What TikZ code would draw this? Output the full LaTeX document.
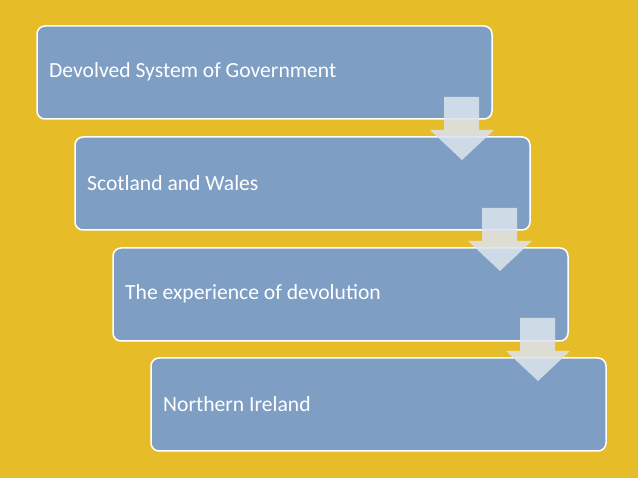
\documentclass[tikz,border=0pt]{standalone}
\usepackage{fontspec}
\setmainfont{Carlito}
\definecolor{bg}{HTML}{E6BC28}
\definecolor{boxfill}{HTML}{7F9EC4}
\definecolor{arrowfill}{RGB}{220,227,237}
\tikzset{
  stepbox/.style={draw=white, line width=1.5pt, fill=boxfill, rounded corners=8pt},
  steptext/.style={anchor=west, text=white, font=\fontsize{21.6}{24}\selectfont, inner sep=0pt},
  downarrow/.style={fill=arrowfill, fill opacity=0.87, draw=none}
}
\begin{document}
\begin{tikzpicture}[x=1pt,y=-1pt]
\fill[bg] (0,0) rectangle (638,478);
\useasboundingbox (0,0) rectangle (638,478);
% boxes
\draw[stepbox] (37,26) rectangle (492,119);
\draw[stepbox] (75,137) rectangle (530,230);
\draw[stepbox] (113,248) rectangle (568,341);
\draw[stepbox] (151,358) rectangle (606,451);
\node[steptext] (t1) at (49,72) {Devolved System of Government};
\node[steptext] (t2) at (87,183) {Scotland and Wales};
\node[steptext] (t3) at (125,294) {The experience of devolution};
\node[steptext] (t4) at (163,404) {Northern Ireland};
% arrows
\foreach \dx/\dy in {0/0, 38/111, 76/221} {
  \fill[downarrow] (444+\dx,97+\dy) -- (479+\dx,97+\dy) -- (479+\dx,130+\dy) -- (494+\dx,130+\dy)
    -- (462+\dx,160+\dy) -- (430+\dx,130+\dy) -- (444+\dx,130+\dy) -- cycle;
}
\end{tikzpicture}
\end{document}
